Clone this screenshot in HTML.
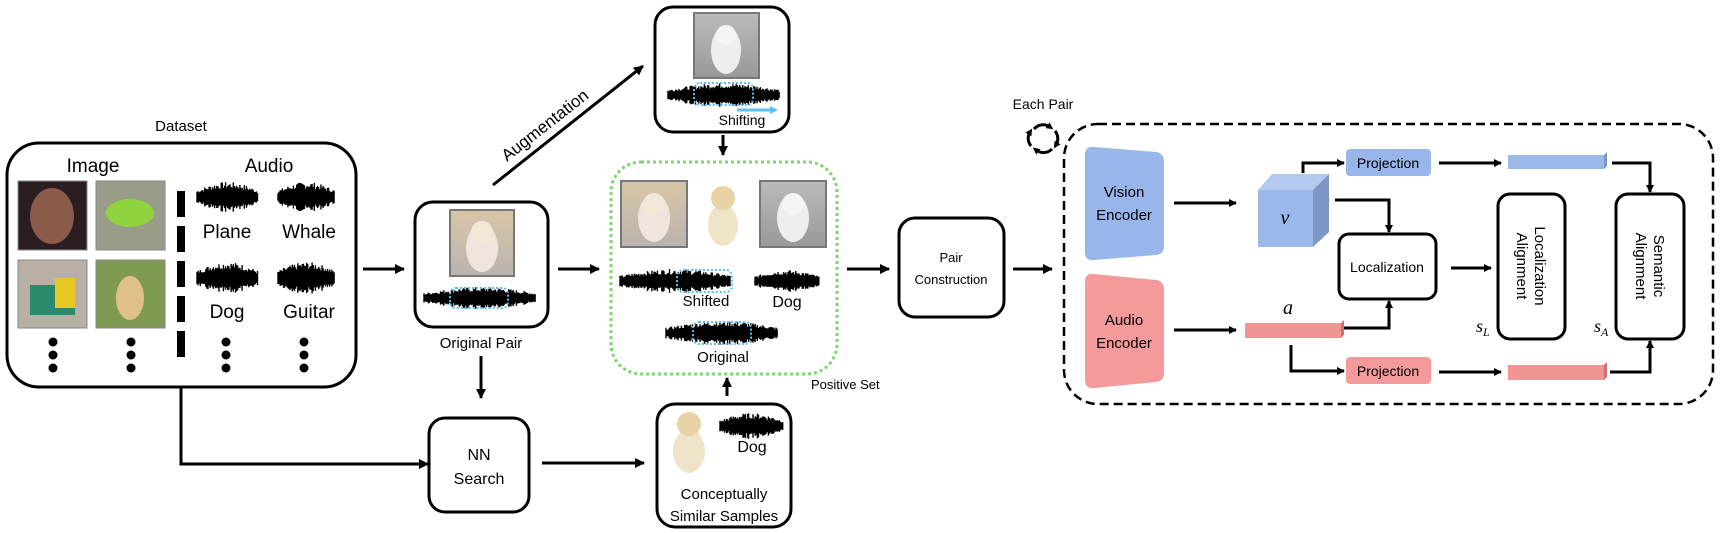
<!DOCTYPE html>
<html><head><meta charset="utf-8"><style>
html,body{margin:0;padding:0;background:#fff;}
svg{display:block;font-family:"Liberation Sans",sans-serif;}
</style></head><body>
<svg id="s" width="1724" height="533" viewBox="0 0 1724 533" xmlns="http://www.w3.org/2000/svg">
<defs>
<marker id="ar" markerWidth="8" markerHeight="8" refX="7" refY="4" orient="auto" markerUnits="userSpaceOnUse"><path d="M0,0 L8,4 L0,8 z" fill="#000"/></marker>
<marker id="arb" markerWidth="10" markerHeight="10" refX="9" refY="5" orient="auto" markerUnits="userSpaceOnUse"><path d="M0,0 L10,5 L0,10 z" fill="#000"/></marker>
<marker id="arc" markerWidth="7" markerHeight="7" refX="3" refY="3.5" orient="auto" markerUnits="userSpaceOnUse"><path d="M0,0 L7,3.5 L0,7 z" fill="#000"/></marker>
<linearGradient id="gb" x1="0" y1="0" x2="0" y2="1"><stop offset="0" stop-color="#d9c6a8"/><stop offset="1" stop-color="#b9b4ae"/></linearGradient>
<linearGradient id="gg" x1="0" y1="0" x2="0" y2="1"><stop offset="0" stop-color="#bbb"/><stop offset="1" stop-color="#999"/></linearGradient>
</defs>
<g stroke="#000" fill="none" stroke-width="3">
<rect x="7" y="143" width="349" height="244" rx="32"/>
<rect x="415" y="202" width="133" height="125" rx="18"/>
<rect x="655" y="7" width="134" height="125" rx="18"/>
<rect x="429" y="418" width="100" height="94" rx="16"/>
<rect x="657" y="404" width="134" height="123" rx="18"/>
<rect x="899" y="218" width="105" height="99" rx="16"/>
<rect x="1339" y="234" width="97" height="65" rx="10"/>
<rect x="1498" y="194" width="67" height="145" rx="12"/>
<rect x="1616" y="194" width="68" height="145" rx="12"/>
</g>
<rect x="611" y="162" width="226" height="212" rx="30" fill="none" stroke="#7ed46d" stroke-width="3" stroke-dasharray="3,3"/>
<rect x="1064" y="124" width="649" height="280" rx="34" fill="none" stroke="#000" stroke-width="2.5" stroke-dasharray="9,5"/>
<line x1="181" y1="191" x2="181" y2="360" stroke="#000" stroke-width="8" stroke-dasharray="26,9"/>

<rect x="18" y="181" width="69" height="69" fill="#2a1e22" stroke="#888"/>
<ellipse cx="52" cy="216" rx="22" ry="28" fill="#8a5a4a"/>
<rect x="96" y="181" width="69" height="69" fill="#9a9c8a" stroke="#888"/>
<ellipse cx="130" cy="213" rx="24" ry="14" fill="#8fd43e"/>
<rect x="18" y="260" width="69" height="68" fill="#b8b0a4" stroke="#888"/>
<rect x="30" y="285" width="45" height="30" fill="#2a8a6a"/><rect x="55" y="278" width="20" height="30" fill="#e8c822"/>
<rect x="96" y="260" width="69" height="68" fill="#7f9a52" stroke="#888"/>
<ellipse cx="130" cy="298" rx="14" ry="22" fill="#e0c08a"/>

<rect x="450" y="210" width="64" height="66" fill="url(#gb)" stroke="#777" stroke-width="2"/><ellipse cx="482" cy="248" rx="16" ry="24" fill="#eee5dc"/><circle cx="482" cy="232" r="11" fill="#f3e8d8"/>
<rect x="694" y="13" width="65" height="65" fill="url(#gg)" stroke="#777" stroke-width="2"/><ellipse cx="726" cy="50" rx="15" ry="24" fill="#eee"/><circle cx="726" cy="35" r="10" fill="#f4f4f4"/>
<rect x="621" y="181" width="66" height="66" fill="url(#gb)" stroke="#777" stroke-width="2"/><ellipse cx="654" cy="218" rx="16" ry="24" fill="#eee5dc"/><circle cx="654" cy="204" r="11" fill="#f3e8d8"/>
<ellipse cx="723" cy="225" rx="15" ry="21" fill="#efe3c8"/><circle cx="723" cy="198" r="12" fill="#e9d2a6"/>
<rect x="760" y="181" width="66" height="66" fill="url(#gg)" stroke="#777" stroke-width="2"/><ellipse cx="793" cy="218" rx="16" ry="24" fill="#eee"/><circle cx="793" cy="204" r="11" fill="#f4f4f4"/>
<ellipse cx="689" cy="451" rx="16" ry="22" fill="#efe3c8"/><circle cx="689" cy="424" r="12" fill="#e9d2a6"/>

<g id="waves" fill="#000"></g>

<g fill="none" stroke="#5bc0f0" stroke-width="2" stroke-dasharray="2,2">
<rect x="450" y="288" width="58" height="20" rx="6"/>
<rect x="694" y="83" width="59" height="22" rx="6"/>
<rect x="677" y="270" width="55" height="22" rx="6"/>
<rect x="693" y="322" width="58" height="22" rx="6"/>
</g>
<line x1="737" y1="110" x2="772" y2="110" stroke="#5bc0f0" stroke-width="3"/><path d="M770,106 L778,110 L770,114z" fill="#5bc0f0"/>

<g stroke="#000" stroke-width="3" fill="none">
<line x1="363" y1="269" x2="404" y2="269" marker-end="url(#arb)"/>
<line x1="481" y1="356" x2="481" y2="398" marker-end="url(#arb)"/>
<polyline points="181,387 181,464 428,464" marker-end="url(#arb)"/>
<line x1="542" y1="463" x2="644" y2="463" marker-end="url(#arb)"/>
<line x1="727" y1="396" x2="727" y2="378" marker-end="url(#arb)"/>
<line x1="723" y1="135" x2="723" y2="155" marker-end="url(#arb)"/>
<line x1="493" y1="185" x2="643" y2="66" marker-end="url(#arb)"/>
<line x1="558" y1="269" x2="599" y2="269" marker-end="url(#arb)"/>
<line x1="847" y1="269" x2="889" y2="269" marker-end="url(#arb)"/>
<line x1="1013" y1="269" x2="1052" y2="269" marker-end="url(#arb)"/>
</g>

<g fill="#000">
<text x="181" y="131" font-size="15" text-anchor="middle">Dataset</text>
<text x="93" y="172" font-size="19" text-anchor="middle">Image</text>
<text x="269" y="172" font-size="19" text-anchor="middle">Audio</text>
<text x="227" y="238" font-size="19" text-anchor="middle">Plane</text>
<text x="309" y="238" font-size="19" text-anchor="middle">Whale</text>
<text x="227" y="318" font-size="19" text-anchor="middle">Dog</text>
<text x="309" y="318" font-size="19" text-anchor="middle">Guitar</text>
<text x="481" y="348" font-size="15" text-anchor="middle">Original Pair</text>
<text x="479" y="460" font-size="16" text-anchor="middle">NN</text>
<text x="479" y="484" font-size="16" text-anchor="middle">Search</text>
<text x="752" y="452" font-size="16" text-anchor="middle">Dog</text>
<text x="724" y="499" font-size="15" text-anchor="middle">Conceptually</text>
<text x="724" y="521" font-size="15" text-anchor="middle">Similar Samples</text>
<text x="742" y="125" font-size="14" text-anchor="middle">Shifting</text>
<text x="706" y="306" font-size="15" text-anchor="middle">Shifted</text>
<text x="787" y="307" font-size="16" text-anchor="middle">Dog</text>
<text x="723" y="362" font-size="15" text-anchor="middle">Original</text>
<text x="811" y="389" font-size="13">Positive Set</text>
<text x="0" y="0" font-size="17" transform="translate(507,162) rotate(-38)">Augmentation</text>
<text x="951" y="262" font-size="13" text-anchor="middle">Pair</text>
<text x="951" y="284" font-size="13" text-anchor="middle">Construction</text>
<text x="1043" y="109" font-size="14" text-anchor="middle">Each Pair</text>
</g>
<g fill="#000" id="dots"></g>

<g stroke="#000" stroke-width="3" fill="none">
<path d="M1034,129 A12,12 0 0 1 1050,127" marker-end="url(#arc)"/><path d="M1055,131 A12,12 0 0 1 1056,145" marker-end="url(#arc)"/>
<path d="M1052,149 A12,12 0 0 1 1036,150" marker-end="url(#arc)"/><path d="M1031,146 A12,12 0 0 1 1030,132" marker-end="url(#arc)"/>
</g>

<path d="M1085,155 Q1085,146 1094,147 L1156,152 Q1164,153 1164,162 L1164,246 Q1164,254 1156,255 L1094,260 Q1085,261 1085,252 Z" fill="#98b6ea"/>
<path d="M1085,282 Q1085,273 1094,274 L1156,280 Q1164,281 1164,290 L1164,373 Q1164,381 1156,382 L1094,388 Q1085,389 1085,380 Z" fill="#f59a9a"/>
<polygon points="1258,190 1272,174 1329,174 1313,190" fill="#b3c9f0"/>
<polygon points="1313,190 1329,174 1329,232 1313,247" fill="#7f97c4"/>
<rect x="1258" y="190" width="55" height="57" fill="#9bb8ea"/>
<rect x="1346" y="149" width="85" height="27" rx="4" fill="#98b6ea"/>
<rect x="1346" y="357" width="85" height="27" rx="4" fill="#f59a9a"/>
<rect x="1508" y="155" width="96" height="14" fill="#9bb8ea"/><polygon points="1604,155 1607,152 1607,166 1604,169" fill="#7f97c4"/>
<rect x="1508" y="365" width="96" height="15" fill="#ef9393"/><polygon points="1604,365 1607,362 1607,377 1604,380" fill="#c87272"/>
<rect x="1245" y="323" width="96" height="15" fill="#ef9393"/><polygon points="1341,323 1344,320 1344,335 1341,338" fill="#c87272"/>

<g stroke="#000" stroke-width="3" fill="none">
<line x1="1174" y1="203" x2="1236" y2="203" marker-end="url(#ar)"/>
<line x1="1174" y1="330" x2="1236" y2="330" marker-end="url(#ar)"/>
<polyline points="1303,173 1303,163 1344,163" marker-end="url(#ar)"/>
<line x1="1439" y1="163" x2="1501" y2="163" marker-end="url(#ar)"/>
<polyline points="1612,163 1650,163 1650,192" marker-end="url(#ar)"/>
<polyline points="1335,200 1389,200 1389,232" marker-end="url(#ar)"/>
<polyline points="1344,328 1389,328 1389,301" marker-end="url(#ar)"/>
<line x1="1451" y1="268" x2="1491" y2="268" marker-end="url(#ar)"/>
<polyline points="1291,345 1291,371 1344,371" marker-end="url(#ar)"/>
<line x1="1439" y1="372" x2="1501" y2="372" marker-end="url(#ar)"/>
<polyline points="1610,372 1650,372 1650,341" marker-end="url(#ar)"/>
</g>
<g fill="#000">
<text x="1124" y="197" font-size="15" text-anchor="middle">Vision</text>
<text x="1124" y="220" font-size="15" text-anchor="middle">Encoder</text>
<text x="1124" y="325" font-size="15" text-anchor="middle">Audio</text>
<text x="1124" y="348" font-size="15" text-anchor="middle">Encoder</text>
<text x="1388" y="168" font-size="14" text-anchor="middle">Projection</text>
<text x="1388" y="376" font-size="14" text-anchor="middle">Projection</text>
<text x="1387" y="272" font-size="14" text-anchor="middle">Localization</text>
<text x="1285" y="224" font-size="20" font-style="italic" font-family="Liberation Serif,serif" text-anchor="middle">v</text>
<text x="1288" y="314" font-size="20" font-style="italic" font-family="Liberation Serif,serif" text-anchor="middle">a</text>
<text x="1476" y="332" font-size="18" font-style="italic" font-family="Liberation Serif,serif">s<tspan font-size="12" dy="4">L</tspan></text>
<text x="1594" y="332" font-size="18" font-style="italic" font-family="Liberation Serif,serif">s<tspan font-size="12" dy="4">A</tspan></text>
<text font-size="15" text-anchor="middle" transform="translate(1531,266) rotate(90)"><tspan x="0" y="-4">Localization</tspan><tspan x="0" y="14">Alignment</tspan></text>
<text font-size="15" text-anchor="middle" transform="translate(1650,266) rotate(90)"><tspan x="0" y="-4">Semantic</tspan><tspan x="0" y="14">Alignment</tspan></text>
</g>
</svg>
<script>
var ns="http://www.w3.org/2000/svg",W=document.getElementById("waves");
var seed=7;function r(){seed=(seed*9301+49297)%233280;return seed/233280;}
function wave(x1,x2,cy,h){var d="";for(var x=x1;x<x2;x+=1.1){var t=(x-x1)/(x2-x1);var env=0.45+0.55*Math.sin(Math.PI*t);var a=h*env*(0.55+r()*0.45);d+="M"+x.toFixed(1)+","+(cy-a).toFixed(1)+"v"+(2*a).toFixed(1);}
var p=document.createElementNS(ns,"path");p.setAttribute("d",d);p.setAttribute("stroke","#000");p.setAttribute("stroke-width","1.4");W.appendChild(p);}
wave(197,258,197,15);wave(278,335,197,15);wave(197,258,278,16);wave(278,335,278,16);
wave(424,536,298,11);wave(668,780,95,12);wave(620,731,281,12);wave(755,819,281,11);wave(666,778,333,12);wave(720,783,426,13);
var D=document.getElementById("dots");[53,131,226,304].forEach(function(x){[342,355,368].forEach(function(y){var c=document.createElementNS(ns,"circle");c.setAttribute("cx",x);c.setAttribute("cy",y);c.setAttribute("r",4.5);D.appendChild(c);});});
</script>
</body></html>
